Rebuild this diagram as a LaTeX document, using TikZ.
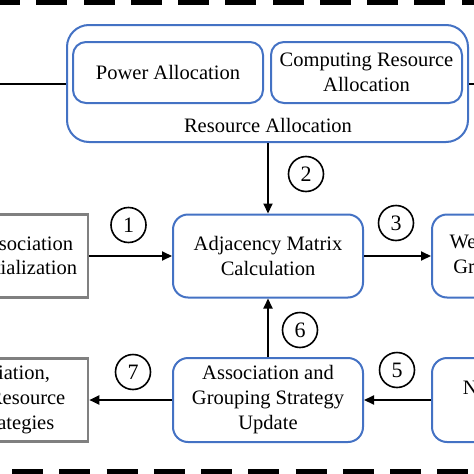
\documentclass[tikz,border=0pt]{standalone}
\usepackage{fontspec}
\setmainfont{Liberation Serif}
\usetikzlibrary{arrows.meta}
\definecolor{boxblue}{RGB}{68,114,196}
\definecolor{boxgray}{RGB}{128,128,128}

\begin{document}
\begin{tikzpicture}[x=1pt, y=-1pt,
	every node/.style={font=\fontsize{20.5}{24.5}\selectfont, align=center, inner sep=0pt},
	blockbox/.style={draw=boxblue, line width=2pt, rounded corners=15pt},
	graybox/.style={draw=boxgray, line width=2.6pt},
	numcirc/.style={draw, circle, line width=1.6pt, minimum size=35pt, font=\fontsize{22}{26}\selectfont},
	flow/.style={line width=2pt, -{Triangle[length=10pt,width=9pt]}},
	bar/.style={line width=7pt, dash pattern=on 31pt off 16.25pt}]

\useasboundingbox (0,0) rectangle (474,474);
\clip (0,0) rectangle (474,474);

\draw[bar] (-10.8,1) -- (490,1);
\draw[bar] (-35.2,472.5) -- (490,472.5);

\node[blockbox, rounded corners=22pt, minimum width=401pt, minimum height=117pt] (resalloc) at (267.5,83.5) {};
\node[blockbox, rounded corners=13pt, minimum width=190pt, minimum height=61pt] (power) at (168,72.5) {Power Allocation};
\node[blockbox, rounded corners=13pt, minimum width=191pt, minimum height=61pt] (computing) at (366.5,72.5) {Computing Resource\\Allocation};
\node (reslabel) at (268,125) {Resource Allocation};

\node[blockbox, minimum width=190pt, minimum height=83pt] (adjacency) at (268,256) {Adjacency Matrix\\Calculation};
\node[graybox, minimum width=126.8pt, minimum height=83pt] (init) at (24.6,256) {Association\\Initialization};
\node[blockbox, minimum width=190pt, minimum height=83pt] (wgraph) at (527,256) {Weighted Bipartite\\Graph Generation};

\node[blockbox, minimum width=190pt, minimum height=84pt, font=\fontsize{20.5}{25}\selectfont] (update) at (268,400) {Association and\\Grouping Strategy\\Update};
\node[graybox, minimum width=240pt, minimum height=83pt, font=\fontsize{20.5}{25}\selectfont] (output) at (-32,400) {Output Association,\\Grouping and Resource\\Allocation Strategies};
\node[blockbox, minimum width=190pt, minimum height=84pt, font=\fontsize{20.5}{25}\selectfont] (grouping) at (527,400) {Node Grouping\\Result};

\coordinate (leftend) at (-10,83.5);
\coordinate (rightend) at (490,83.5);
\draw[line width=2pt] (leftend) -- (resalloc);
\draw[line width=2pt] (resalloc) -- (rightend);

\draw[flow] (resalloc.south -| adjacency.north) -- (adjacency.north);
\draw[flow] (init) -- (adjacency);
\draw[flow] (adjacency) -- (wgraph);
\draw[flow] (update) -- (adjacency);
\draw[flow] (grouping) -- (update);
\draw[flow] (update) -- (output);

\foreach \n/\px/\py in {1/128.5/225, 2/306/174, 3/396/223, 5/397/370, 6/300/330, 7/133/372} {
	\node[numcirc] (num\n) at (\px,\py) {\n};
}

\end{tikzpicture}
\end{document}
